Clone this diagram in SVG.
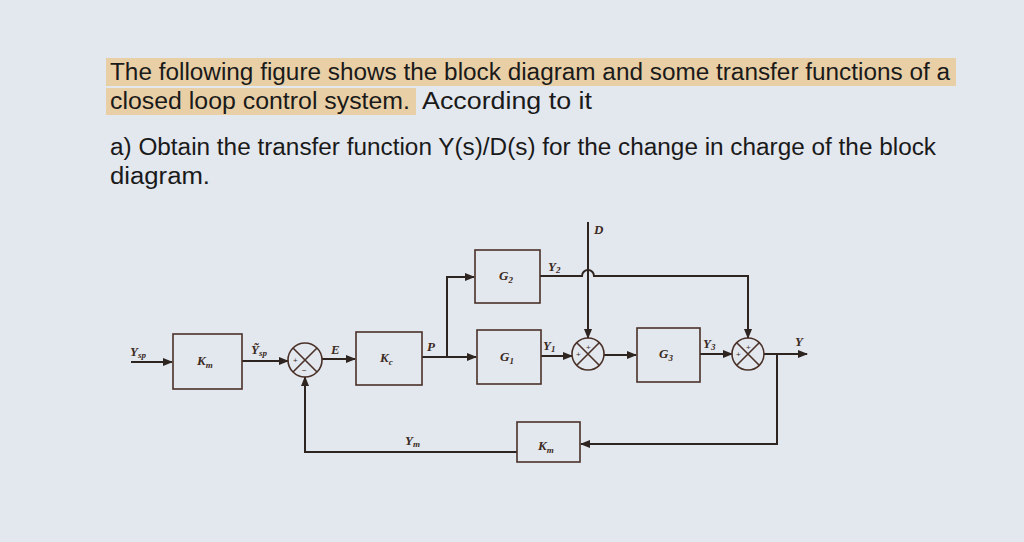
<svg xmlns="http://www.w3.org/2000/svg" width="1024" height="542" viewBox="0 0 1024 542">
<style>
.t{font-family:"Liberation Sans Narrow","Liberation Sans",Arial,sans-serif;font-size:23px;fill:#1a1a1a}
.l{font-family:"Liberation Serif","Times New Roman",serif;font-style:italic;font-weight:bold;font-size:13px;fill:#3a2a22}
.b{fill:none;stroke:#4a3128;stroke-width:1.6}
.w{fill:none;stroke:#2e2420;stroke-width:2}
.s{fill:#3a2a22;font-family:"Liberation Sans",sans-serif;font-size:8px}
</style>
<defs><marker id="a" markerWidth="10" markerHeight="8" refX="9" refY="4" orient="auto" markerUnits="userSpaceOnUse"><path d="M0,0 L10,4 L0,8 Z" fill="#2e2420"/></marker></defs>
<rect width="1024" height="542" fill="#e3e7ee"/>
<rect x="106" y="58" width="850" height="28" fill="#e9cfa6"/>
<rect x="106" y="88" width="310" height="27" fill="#e9cfa6"/>
<text class="t" x="110" y="80" textLength="840" lengthAdjust="spacingAndGlyphs">The following figure shows the block diagram and some transfer functions of a</text>
<text class="t" x="110" y="109" textLength="300" lengthAdjust="spacingAndGlyphs">closed loop control system.</text>
<text class="t" x="422" y="109" textLength="170" lengthAdjust="spacingAndGlyphs">According to it</text>
<text class="t" x="110" y="155" textLength="826" lengthAdjust="spacingAndGlyphs">a) Obtain the transfer function Y(s)/D(s) for the change in charge of the block</text>
<text class="t" x="110" y="184" textLength="100" lengthAdjust="spacingAndGlyphs">diagram.</text>
<g id="connectors">
<path class="w" d="M131,362 H172" marker-end="url(#a)"/>
<path class="w" d="M242,361 H288" marker-end="url(#a)"/>
<path class="w" d="M322,359 H355" marker-end="url(#a)"/>
<path class="w" d="M422,357 H476" marker-end="url(#a)"/>
<path class="w" d="M447,357 V277 H474" marker-end="url(#a)"/>
<path class="w" d="M541,356 H572" marker-end="url(#a)"/>
<path class="w" d="M604,355 H636" marker-end="url(#a)"/>
<path class="w" d="M700,354 H732" marker-end="url(#a)"/>
<path class="w" d="M764,354 H807" marker-end="url(#a)"/>
<path class="w" d="M540,276 H582 A6,6 0 0 1 594,276 H748 V338" marker-end="url(#a)"/>
<path class="w" d="M588,222 V338" marker-end="url(#a)"/>
<path class="w" d="M777,354 V444 H581" marker-end="url(#a)"/>
<path class="w" d="M517,452 H305 V377" marker-end="url(#a)"/>
</g>
<g id="Km"><rect class="b" x="173" y="334" width="69" height="55"/><text class="l" x="197" y="365">K<tspan font-size="9" dy="3">m</tspan></text></g>
<g id="sum1"><circle class="b" cx="305" cy="360" r="17"/><path class="b" d="M293,348 L317,372 M317,348 L293,372"/><text class="s" x="293" y="363">+</text><text class="s" x="302" y="373">−</text></g>
<g id="Kc"><rect class="b" x="356" y="332" width="66" height="53"/><text class="l" x="380" y="362">K<tspan font-size="9" dy="3">c</tspan></text></g>
<g id="G2"><rect class="b" x="475" y="250" width="65" height="53"/><text class="l" x="499" y="280">G<tspan font-size="9" dy="3">2</tspan></text></g>
<g id="G1"><rect class="b" x="477" y="330" width="64" height="54"/><text class="l" x="500" y="361">G<tspan font-size="9" dy="3">1</tspan></text></g>
<g id="sum2"><circle class="b" cx="588" cy="354" r="16"/><path class="b" d="M577,343 L599,365 M599,343 L577,365"/><text class="s" x="586" y="350">+</text><text class="s" x="576" y="357">+</text></g>
<g id="G3"><rect class="b" x="637" y="328" width="63" height="54"/><text class="l" x="659" y="358">G<tspan font-size="9" dy="3">3</tspan></text></g>
<g id="sum3"><circle class="b" cx="748" cy="354" r="16"/><path class="b" d="M737,343 L759,365 M759,343 L737,365"/><text class="s" x="746" y="350">+</text><text class="s" x="736" y="357">+</text></g>
<g id="Km2"><rect class="b" x="517" y="422" width="63" height="40"/><text class="l" x="538" y="450">K<tspan font-size="9" dy="3">m</tspan></text></g>
<g id="labels">
<text class="l" x="130" y="356">Y<tspan font-size="9" dy="2">sp</tspan></text>
<text class="l" x="251" y="354">Ỹ<tspan font-size="9" dy="2">sp</tspan></text>
<text class="l" x="331" y="354">E</text>
<text class="l" x="427" y="351">P</text>
<text class="l" x="548" y="271">Y<tspan font-size="9" dy="2">2</tspan></text>
<text class="l" x="543" y="350">Y<tspan font-size="9" dy="2">1</tspan></text>
<text class="l" x="703" y="348">Y<tspan font-size="9" dy="2">3</tspan></text>
<text class="l" x="795" y="346">Y</text>
<text class="l" x="594" y="234">D</text>
<text class="l" x="405" y="445">Y<tspan font-size="9" dy="2">m</tspan></text>
</g>
</svg>
